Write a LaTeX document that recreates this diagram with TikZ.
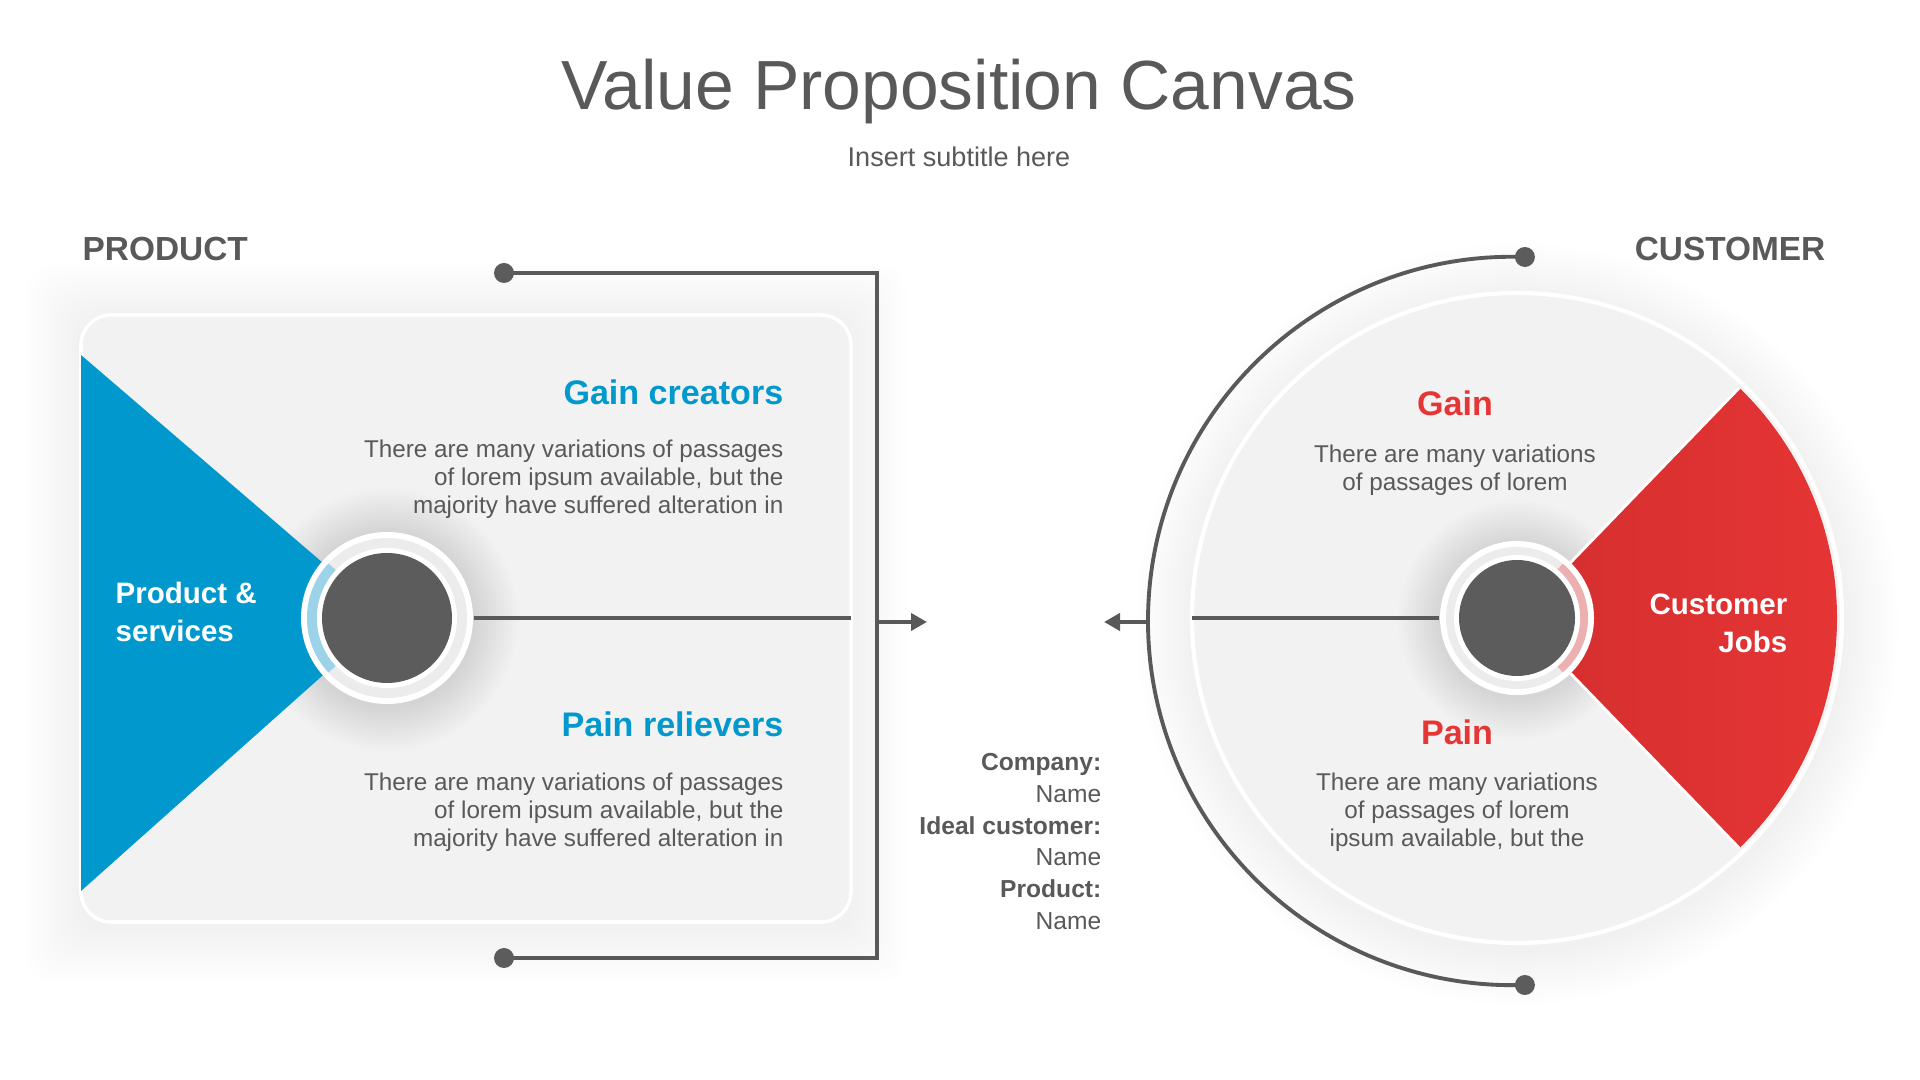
\documentclass[tikz,border=0pt]{standalone}
\usepackage{fontspec}
\setmainfont{Liberation Sans}
\usetikzlibrary{arrows.meta}

\definecolor{ink}{HTML}{595959}
\definecolor{dotgray}{HTML}{5C5C5C}
\definecolor{vpblue}{HTML}{0098CD}
\definecolor{vplightblue}{HTML}{9DD3E8}
\definecolor{vpred}{HTML}{E63535}
\definecolor{vpdeepred}{HTML}{D42E2E}
\definecolor{vppink}{HTML}{EDB0B0}
\definecolor{panel}{HTML}{F2F2F2}
\definecolor{ringgray}{HTML}{ECECEC}

\begin{document}
\begin{tikzpicture}[
    line/.style = {draw=ink, line width=1.1pt},
    body/.style = {text=ink, font=\fontsize{6.9}{7.95}\selectfont, inner sep=0pt},
    head/.style = {font=\bfseries\fontsize{9.7}{11}\selectfont, inner sep=0pt},
    side/.style = {text=white, font=\bfseries\fontsize{8.4}{11}\selectfont, inner sep=0pt},
    hub/.style = {circle, fill=white, inner sep=0pt},
    ]
    
    \useasboundingbox[fill=white] (0,0) rectangle (19.2,10.8);
    
    % soft shadows
    \foreach \s in {0.04,0.08,...,0.6} {
        \fill[black, opacity=0.005, rounded corners=3mm] (0.81-\s,1.52-\s) rectangle (8.51+\s,7.61+\s);
        \fill[black, opacity=0.005] (15.17,4.56) circle (3.25+\s);
    } %end foreach
    
    % titles
    \node[text=ink, font=\fontsize{19.8}{23}\selectfont, anchor=base] (title) at (9.59,9.70) {Value Proposition Canvas};
    \node[text=ink, font=\fontsize{7.7}{9}\selectfont, anchor=base] (subtitle) at (9.59,9.13) {Insert subtitle here};
    \node[text=ink, font=\bfseries\fontsize{9.5}{11}\selectfont, anchor=base west, inner sep=0pt] (product) at (0.82,8.19) {PRODUCT};
    \node[text=ink, font=\bfseries\fontsize{9.5}{11}\selectfont, anchor=base east, inner sep=0pt] (customer) at (18.26,8.19) {CUSTOMER};
    
    % product panel
    \draw[white, line width=1pt, fill=panel, rounded corners=3mm] (0.81,1.58) rectangle (8.51,7.65);
    \foreach \s in {0.03,0.06,...,0.45} {
        \fill[black, opacity=0.008] (3.87,4.60) circle (0.86+\s);
    } %end foreach
    \fill[vpblue] (0.81,7.25) -- (3.87,4.62) -- (0.81,1.89) -- cycle;
    \coordinate (boxR) at (8.51,4.62);
    
    \node[hub, minimum size=1.72cm] (hubL) at (3.87,4.62) {};
    \fill[ringgray] (hubL) circle (0.80);
    \draw[vplightblue, line width=0.1cm] (hubL) ++(137:0.75) arc (137:223:0.75);
    \fill[white] (hubL) circle (0.70);
    \fill[dotgray] (hubL) circle (0.65);
    \draw[line] (hubL.east) -- (boxR);
    
    \node[side, anchor=north west, align=left] (prodserv) at (1.15,4.99) {Product \&\\services};
    
    \node[head, text=vpblue, anchor=base east] (gaincr) at (7.84,6.75) {Gain creators};
    \node[body, anchor=north east, align=right] (gaincrtxt) at (7.84,6.41) {There are many variations of passages\\of lorem ipsum available, but the\\majority have suffered alteration in};
    \node[head, text=vpblue, anchor=base east] (painrl) at (7.84,3.43) {Pain relievers};
    \node[body, anchor=north east, align=right] (painrltxt) at (7.84,3.08) {There are many variations of passages\\of lorem ipsum available, but the\\majority have suffered alteration in};
    
    % bracket and arrow
    \coordinate (brTop) at (5.04,8.07);
    \coordinate (brBot) at (5.04,1.22);
    \coordinate (brMid) at (8.77,4.58);
    \coordinate (tipL) at (9.27,4.58);
    \draw[line] (brTop) -- (8.77,8.07) -- (8.77,1.22) -- (brBot);
    \fill[dotgray] (brTop) circle (0.10);
    \fill[dotgray] (brBot) circle (0.10);
    \draw[line, -{Triangle[length=0.16cm, width=0.17cm]}] (brMid) -- (tipL);
    
    % info
    \node[text=ink, font=\fontsize{7}{9}\selectfont, anchor=north east, align=right, inner sep=0pt] (info) at (11.02,3.27)
        {\textbf{Company:}\\Name\\\textbf{Ideal customer:}\\Name\\\textbf{Product:}\\Name};
    
    % customer disk
    \draw[white, line width=1.2pt, fill=panel] (15.17,4.62) circle (3.25);
    \foreach \s in {0.03,0.06,...,0.42} {
        \fill[black, opacity=0.008] (15.17,4.60) circle (0.77+\s);
    } %end foreach
    \shade[left color=vpdeepred, right color=vpred] (15.17,4.62) -- ++(46:3.2) arc (46:-46:3.2) -- cycle;
    \draw[white, line width=0.8pt] (15.17,4.62) ++(46:3.2) -- (15.17,4.62) -- ++(-46:3.2);
    \coordinate (diskW) at (11.92,4.62);
    
    \node[hub, minimum size=1.54cm] (hubR) at (15.17,4.62) {};
    \fill[ringgray] (hubR) circle (0.71);
    \draw[vppink, line width=0.08cm] (hubR) ++(50:0.67) arc (50:-50:0.67);
    \fill[white] (hubR) circle (0.63);
    \fill[dotgray] (hubR) circle (0.58);
    \draw[line] (diskW) -- (hubR.west);
    
    \node[side, anchor=north east, align=right] (jobs) at (17.88,4.87) {Customer\\Jobs};
    
    \node[head, text=vpred, anchor=base] (gain) at (14.55,6.64) {Gain};
    \node[body, anchor=north, align=center] (gaintxt) at (14.55,6.36) {There are many variations\\of passages of lorem};
    \node[head, text=vpred, anchor=base] (pain) at (14.57,3.35) {Pain};
    \node[body, anchor=north, align=center] (paintxt) at (14.57,3.08) {There are many variations\\of passages of lorem\\ipsum available, but the};
    
    % outer arc and arrow
    \coordinate (arcTop) at (15.249,8.23);
    \coordinate (arcBot) at (15.249,0.95);
    \coordinate (arcW) at (11.48,4.58);
    \coordinate (tipR) at (11.04,4.58);
    \draw[line] (arcTop) arc (88:272:3.642);
    \fill[dotgray] (arcTop) circle (0.10);
    \fill[dotgray] (arcBot) circle (0.10);
    \draw[line, -{Triangle[length=0.16cm, width=0.17cm]}] (arcW) -- (tipR);
    
\end{tikzpicture}
\end{document}
